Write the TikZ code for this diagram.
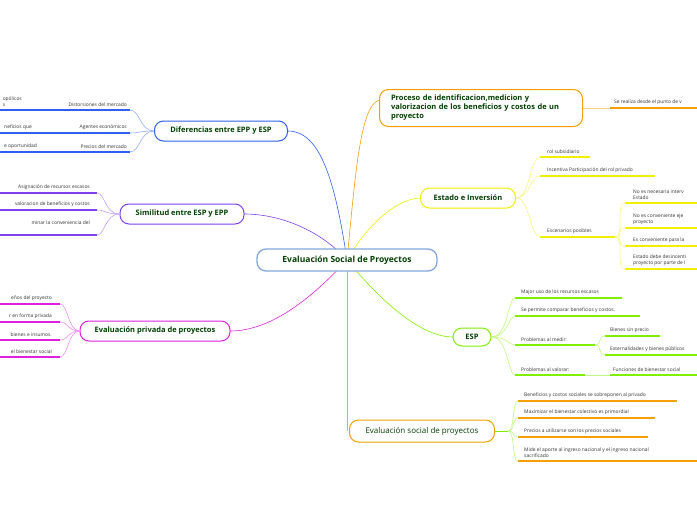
\documentclass[tikz,border=0pt]{standalone}
\usepackage{fontspec}
\setmainfont{Open Sans}
\begin{document}
\begin{tikzpicture}[x=1pt,y=-1pt,
  main/.style={draw,rounded corners=9pt,line width=1pt,minimum height=20pt,font=\fontsize{7.5}{9}\selectfont\bfseries,text=green!25!black,fill=white},
  lf/.style={font=\fontsize{4.9}{5.8}\selectfont,text=black!80,inner sep=0pt,align=left},
  ln/.style={line width=1.3pt},
  cn/.style={line width=0.6pt}]
\useasboundingbox (0,0) rectangle (697,520);
\clip (0,0) rectangle (697,520);
\definecolor{colB}{HTML}{2F5FF0}\definecolor{colP}{HTML}{8040F0}\definecolor{colM}{HTML}{E020E0}
\definecolor{colO}{HTML}{F5A000}\definecolor{colY}{HTML}{F0F000}\definecolor{colG}{HTML}{80F000}
% center connectors
\coordinate (c0) at (347,260);
\draw[colB,cn] (c0) .. controls (335,180) and (320,131) .. (288,131);
\draw[colP,cn] (c0) .. controls (320,230) and (280,214) .. (244,214);
\draw[colM,cn] (c0) .. controls (310,300) and (270,331) .. (230,331);
\draw[colO,cn] (c0) .. controls (355,180) and (360,100) .. (381,100);
\draw[colY,cn] (c0) .. controls (370,220) and (400,198) .. (421,198);
\draw[colG,cn] (c0) .. controls (380,300) and (420,337) .. (453,337);
\draw[colG,line width=1pt] (c0) -- (347,431) coordinate (cs);
% central
\node[main,draw=cyan!50!blue!50,fill=white,line width=1.3pt,minimum width=180pt,minimum height=22pt,font=\fontsize{8.5}{10}\selectfont\bfseries] (ctr) at (347,260) {Evaluación Social de Proyectos};
% Diferencias
\node[main,draw=colB,minimum width=133pt] (dif) at (221,131) {Diferencias entre EPP y ESP};
\foreach \y/\t/\x/\s/\u in {110/Distorsiones del mercado/50/{opólicos\\s}/22,133/Agentes económicos/65/neficios que/32,152/Precios del mercado/65/e oportunidad/37}{
 \draw[colB,ln] (\x,\y) -- (130,\y);
 \draw[colB,ln] (0,\y) -- (\x,\y);
 \node[lf,anchor=south east] at (127,\y-3) {\t};
 \node[lf,anchor=south east] at (\u,\y-3) {\s};
 \draw[colB!50,cn] (dif.west) .. controls (140,131) and (140,\y) .. (130,\y);
}
% Similitud
\node[main,draw=colP,minimum width=124pt] (sim) at (182,214) {Similitud entre ESP y EPP};
\foreach \y/\t/\ty in {193/Asignación de recursos escasos/190,210/valoracion de beneficios y costos/207,235/minar la conveniencia del/225}{
 \draw[colP,ln] (0,\y) -- (97,\y);
 \node[lf,anchor=south east] at (90,\ty) {\t};
 \draw[colP!50,cn] (sim.west) .. controls (105,214) and (105,\y) .. (97,\y);
}
% Privada
\node[main,draw=colM,minimum width=150pt] (pri) at (155,331) {Evaluación privada de proyectos};
\foreach \y/\t in {304/eños del proyecto,322/r en forma privada,340/bienes e insumos.,357/el bienestar social}{
 \draw[colM,ln] (0,\y) -- (60,\y);
 \node[lf,anchor=south east] at (52,\y-3) {\t};
 \draw[colM!50,cn] (pri.west) .. controls (68,331) and (68,\y) .. (60,\y);
}
% Proceso
\node[main,draw=colO,minimum width=203pt,minimum height=37pt,align=left,text width=180pt] (pro) at (481,108) {Proceso de identificacion,medicion y\\valorizacion de los beneficios y costos de un\\proyecto};
\draw[colO,ln] (610,108) -- (697,108);
\draw[colO!50,cn] (pro.east) -- (610,108);
\node[lf,anchor=south west] at (614,105) {Se realiza desde el punto de v};
% Estado
\node[main,draw=colY,minimum width=95pt] (est) at (468,198) {Estado e Inversión};
\foreach \y/\t/\x in {157/rol subsidiario/590,176/Incentiva Participación del rol privado/655,237/Escenarios posibles/615}{
 \draw[colY,ln] (540,\y) -- (\x,\y);
 \node[lf,anchor=south west] at (547,\y-3) {\t};
 \draw[colY!50,cn] (est.east) .. controls (530,198) and (530,\y) .. (540,\y);
}
\foreach \y/\t in {203/{No es necesaria  interv\\Estado},228/{No es conveniente  eje\\proyecto},246/{Es conveniente para la},269/{Estado debe desincenti\\proyecto por parte de l}}{
 \draw[colY,ln] (625,\y) -- (697,\y);
 \node[lf,anchor=south west] at (633,\y-3) {\t};
 \draw[colY!50,cn] (615,237) .. controls (625,237) and (615,\y) .. (625,\y);
}
% ESP
\node[main,draw=colG,minimum width=38pt,minimum height=18pt] (esp) at (472,337) {ESP};
\foreach \y/\t/\x in {298/Major uso  de los recursos escasos/622,316/Se permite comparar beneficios y costos./640,345/Problemas al medir:/595,375/Problemas al valorar:/585}{
 \draw[colG,ln] (515,\y) -- (\x,\y);
 \node[lf,anchor=south west] at (521,\y-3) {\t};
 \draw[colG!50,cn] (esp.east) .. controls (508,337) and (508,\y) .. (515,\y);
}
\draw[colG,ln] (605,336) -- (660,336); \node[lf,anchor=south west] at (610,333) {Bienes sin precio};
\draw[colG,ln] (605,355) -- (697,355); \node[lf,anchor=south west] at (610,352) {Externalidades y bienes públicos};
\draw[colG!50,cn] (595,345) .. controls (602,345) and (598,336) .. (605,336);
\draw[colG!50,cn] (595,345) .. controls (602,345) and (598,355) .. (605,355);
\draw[colG,ln] (610,375) -- (697,375); \node[lf,anchor=south west] at (613,372) {Funciones de bienestar social};
\draw[colG!50,cn] (585,375) -- (610,375);
% Social
\node[main,draw=colO,minimum width=145pt,minimum height=22pt,font=\fontsize{8}{10}\selectfont] (soc) at (422,431) {Evaluación social de proyectos};
\draw[colG,line width=1pt] (soc.east) -- (508,431);
\foreach \y/\t/\x/\ty in {401/Beneficios y costos sociales se sobreponen al privado/677/398,418/Maximizar el bienestar colectivo es primordial/655/415,437/Precios a utilizarse son los precios sociales/648/434,461/{Mide el aporte al ingreso nacional y el ingreso nacional\\sacrificado}/697/458}{
 \draw[colO,ln] (518,\y) -- (\x,\y);
 \node[lf,anchor=south west] at (524,\ty) {\t};
 \draw[colG!50,cn] (508,431) .. controls (515,431) and (512,\y) .. (518,\y);
}
\end{tikzpicture}
\end{document}
